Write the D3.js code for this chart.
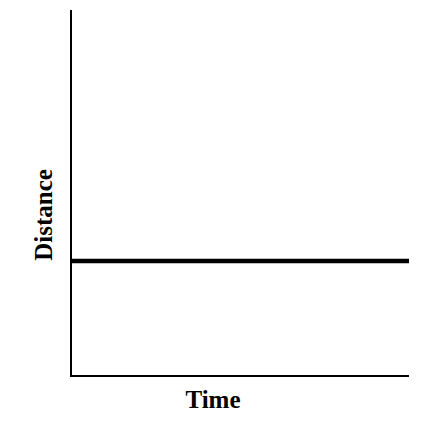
<!DOCTYPE html>
<html>
<head>
<script src="https://cdn.jsdelivr.net/npm/d3@7"></script>
<style>body{margin:0;background:#fff}</style>
</head>
<body>
<div id="chart"></div>
<script>
// distance stays constant over time
const times = [0, 10];
const distances = [3.14, 3.14];
const xLabel = "Time";
const yLabel = "Distance";

const svg = d3.select("#chart").append("svg")
  .attr("width", 447)
  .attr("height", 435);

const x = d3.scaleLinear().domain([0, 10]).range([71, 409]);
const y = d3.scaleLinear().domain([0, 10]).range([376, 10]);

// axes drawn as plain lines, no ticks
svg.append("line")
  .attr("x1", x(0)).attr("x2", x(0))
  .attr("y1", y(0) + 1).attr("y2", y(10))
  .style("stroke", "#000").style("stroke-width", 2);
svg.append("line")
  .attr("x1", x(0)).attr("x2", x(10))
  .attr("y1", y(0)).attr("y2", y(0))
  .style("stroke", "#000").style("stroke-width", 2);

const line = d3.line()
  .x((d, i) => x(times[i]))
  .y(d => y(d));

svg.append("path")
  .datum(distances)
  .attr("d", line)
  .style("fill", "none")
  .style("stroke", "#000")
  .style("stroke-width", 4.5);

svg.append("text")
  .attr("x", 213).attr("y", 408)
  .attr("text-anchor", "middle")
  .style("font-family", "Liberation Serif, serif")
  .style("font-weight", "bold")
  .style("font-size", "25px")
  .text(xLabel);

svg.append("text")
  .attr("transform", "translate(52,215) rotate(-90)")
  .attr("text-anchor", "middle")
  .style("font-family", "Liberation Serif, serif")
  .style("font-weight", "bold")
  .style("font-size", "25px")
  .text(yLabel);
</script>
</body>
</html>
